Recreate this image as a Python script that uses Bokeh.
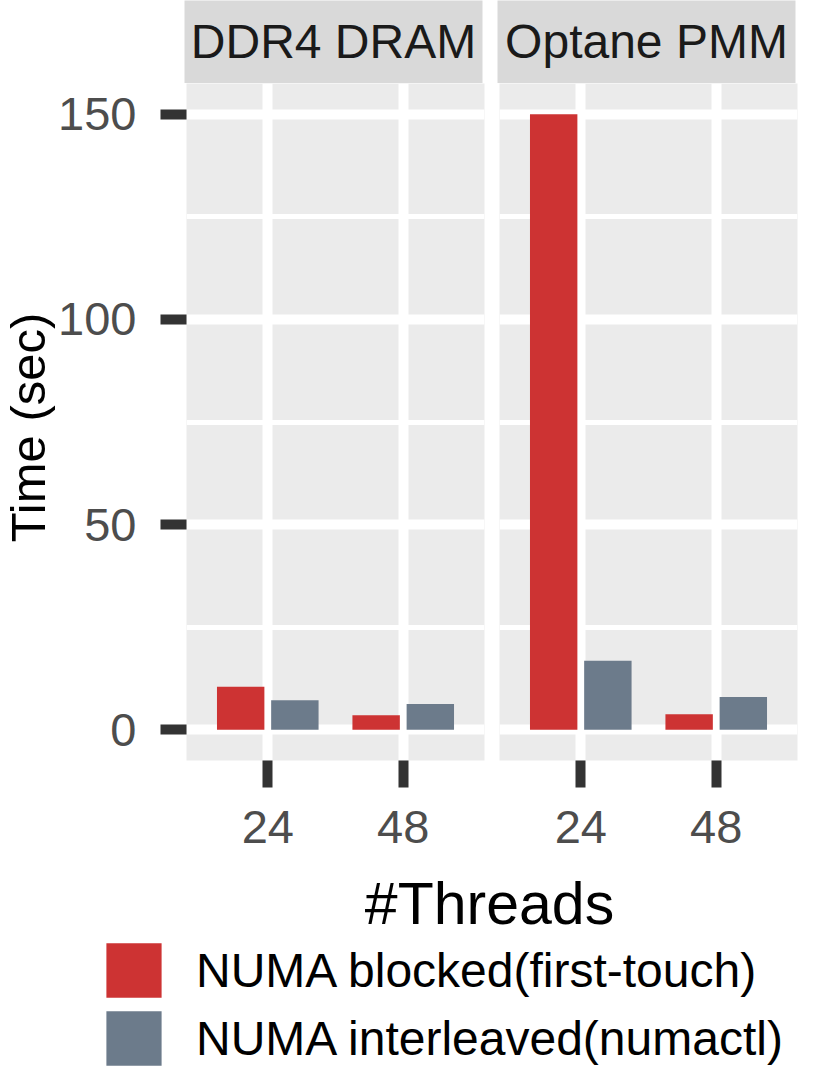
import math
import numpy as np
from bokeh.plotting import figure
from bokeh.models import (ColumnDataSource, FactorRange, Range1d, FixedTicker,
                          Label, Legend, LegendItem, Grid)
from bokeh.layouts import column, row
from bokeh.transform import dodge
from bokeh.embed import file_html
from bokeh.resources import INLINE

# ---------------- data ----------------
memories = ["DDR4 DRAM", "Optane PMM"]
threads = ["24", "48"]
series = ["NUMA blocked(first-touch)", "NUMA interleaved(numactl)"]
ddr4_blocked = [10.5, 3.5]
ddr4_interleaved = [7.2, 6.3]
optane_blocked = [150.0, 3.8]
optane_interleaved = [16.8, 8.0]
series_colors = ["#CD3333", "#6C7B8B"]
y_ticks = [0, 50, 100, 150]
y_minor_ticks = [25, 75, 125]
y_limits = (-7.5, 157.5)
x_title = "#Threads"
y_title = "Time (sec)"

# ---------------- layout / style ----------------
FONT = "Liberation Sans"
PANEL_W = 298
PANEL_H = 677
STRIP_H = 83
YT_W = 55
LEFT = 184
RIGHT1 = 7
LEFT2 = 8
RIGHT2 = 27
BOTTOM = 100
TOTAL_W = LEFT + PANEL_W + RIGHT1 + LEFT2 + PANEL_W + RIGHT2
LEG_H = 210


def base_fig(**kw):
    return figure(toolbar_location=None, output_backend="svg", title=None,
                  outline_line_color=None, border_fill_color="white", **kw)


def strip(name, left, right):
    s = base_fig(frame_width=PANEL_W, frame_height=STRIP_H,
                 min_border_left=left, min_border_right=right,
                 min_border_top=0, min_border_bottom=0,
                 x_range=Range1d(0, 1), y_range=Range1d(0, STRIP_H),
                 x_axis_location=None, y_axis_location=None,
                 background_fill_color="#D9D9D9")
    s.grid.visible = False
    s.add_layout(Label(x=0.5, y=42, text=name, text_align="center",
                       text_baseline="middle", text_font=FONT,
                       text_font_size="48px", text_color="#1A1A1A"))
    return s


def style_axis(ax, tick_out, standoff):
    ax.axis_line_color = None
    ax.major_tick_line_color = "#333333"
    ax.major_tick_line_width = 10
    ax.major_tick_out = tick_out
    ax.major_tick_in = 0
    ax.minor_tick_line_color = None
    ax.major_label_text_font = FONT
    ax.major_label_text_font_size = "47px"
    ax.major_label_text_color = "#4D4D4D"
    ax.major_label_standoff = standoff


def panel(blocked, interleaved, left, right, show_y):
    p = base_fig(x_range=FactorRange(factors=threads, range_padding=0.1,
                                     range_padding_units="percent"),
                 y_range=Range1d(*y_limits),
                 frame_width=PANEL_W, frame_height=PANEL_H,
                 min_border_left=left, min_border_right=right,
                 min_border_top=0, min_border_bottom=BOTTOM,
                 y_axis_location="left" if show_y else None,
                 background_fill_color="#EBEBEB")
    src = ColumnDataSource(dict(threads=threads, blocked=blocked,
                                interleaved=interleaved))
    p.vbar(x=dodge("threads", -0.2, range=p.x_range), top="blocked", bottom=0,
           width=0.35, source=src, fill_color=series_colors[0], line_color=None)
    p.vbar(x=dodge("threads", 0.2, range=p.x_range), top="interleaved", bottom=0,
           width=0.35, source=src, fill_color=series_colors[1], line_color=None)

    p.xgrid.grid_line_color = "white"
    p.xgrid.grid_line_width = 10
    if len(p.ygrid) == 0:
        p.add_layout(Grid(dimension=1), "center")
    p.ygrid.ticker = FixedTicker(ticks=y_ticks, minor_ticks=y_minor_ticks)
    p.ygrid.grid_line_color = "white"
    p.ygrid.grid_line_width = 10
    p.ygrid.minor_grid_line_color = "white"
    p.ygrid.minor_grid_line_width = 5

    style_axis(p.xaxis[0], 27, 23)
    if show_y:
        ya = p.yaxis[0]
        ya.ticker = FixedTicker(ticks=y_ticks)
        style_axis(ya, 26, 24)
    return p


s1 = strip(memories[0], LEFT, RIGHT1)
s2 = strip(memories[1], LEFT2, RIGHT2)

# y-axis title column
yt = base_fig(frame_width=YT_W, frame_height=PANEL_H,
              min_border_left=0, min_border_right=0, min_border_top=0,
              min_border_bottom=BOTTOM,
              x_range=Range1d(0, YT_W), y_range=Range1d(0, PANEL_H),
              x_axis_location=None, y_axis_location=None,
              background_fill_color="white")
yt.grid.visible = False
yt.add_layout(Label(x=YT_W / 2, y=333, text=y_title, angle=math.pi / 2,
                    text_align="center", text_baseline="middle",
                    text_font=FONT, text_font_size="49px", text_color="black"))

f1 = panel(ddr4_blocked, ddr4_interleaved, LEFT - YT_W, RIGHT1, True)
f2 = panel(optane_blocked, optane_interleaved, LEFT2, RIGHT2, False)

# bottom: x title + legend
f3 = base_fig(frame_width=TOTAL_W, frame_height=LEG_H,
              x_range=Range1d(0, TOTAL_W), y_range=Range1d(0, LEG_H),
              x_axis_location=None, y_axis_location=None,
              min_border=0, background_fill_color="white")
f3.grid.visible = False
f3.add_layout(Label(x=489, y=167, text=x_title, text_align="center",
                    text_baseline="alphabetic", text_font=FONT,
                    text_font_size="59px", text_color="black"))
# legend proxies (one undrawn row each, NaN height)
r1 = f3.vbar(x=[0], top=[np.nan], width=1, fill_color=series_colors[0], line_color=None)
r2 = f3.vbar(x=[0], top=[np.nan], width=1, fill_color=series_colors[1], line_color=None)
legend = Legend(items=[LegendItem(label=series[0], renderers=[r1]),
                       LegendItem(label=series[1], renderers=[r2])],
                location=(99, -2), orientation="vertical", padding=0, margin=0,
                spacing=0, glyph_width=69, glyph_height=68, label_standoff=28,
                label_text_font=FONT, label_text_font_size="48px",
                label_text_color="black", border_line_color=None,
                background_fill_alpha=0)
f3.add_layout(legend, "center")

layout = column(row(s1, s2), row(yt, f1, f2), f3)

with open("out.html", "w") as fh:
    fh.write(file_html(layout, INLINE))
